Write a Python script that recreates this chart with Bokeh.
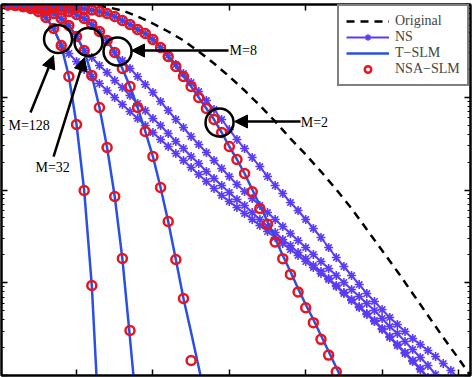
import numpy as np
from bokeh.plotting import figure
from bokeh.models import (Range1d, Legend, LegendItem, Arrow, NormalHead, Label,
                          FixedTicker, LinearAxis, LogAxis, CustomJSTickFormatter)
from bokeh.embed import file_html
from bokeh.resources import INLINE

# PAPR threshold grid (dB), 0.1 dB steps
papr_db = [4.0, 4.1, 4.2, 4.3, 4.4, 4.5, 4.6, 4.7, 4.8, 4.9,
           5.0, 5.1, 5.2, 5.3, 5.4, 5.5, 5.6, 5.7, 5.8, 5.9,
           6.0, 6.1, 6.2, 6.3, 6.4, 6.5, 6.6, 6.7, 6.8, 6.9,
           7.0, 7.1, 7.2, 7.3, 7.4, 7.5, 7.6, 7.7, 7.8, 7.9,
           8.0, 8.1, 8.2, 8.3, 8.4, 8.5, 8.6, 8.7, 8.8, 8.9,
           9.0, 9.1, 9.2, 9.3, 9.4, 9.5, 9.6, 9.7, 9.8, 9.9,
           10.0, 10.1, 10.2]
orig_db = [4.0, 4.2, 4.4, 4.6, 4.8, 5.0, 5.2, 5.4, 5.6, 5.8, 6.0, 6.2, 6.4, 6.6, 6.8,
           7.0, 7.2, 7.4, 7.6, 7.8, 8.0, 8.2, 8.4, 8.6, 8.8, 9.0, 9.2, 9.4, 9.6, 9.8,
           10.0, 10.2]

# log10 of CCDF values
orig_log10 = [0.0, 0.0, -0.001, -0.001, -0.001, -0.002, -0.009, -0.027, -0.065, -0.129,
              -0.205, -0.291, -0.388, -0.507, -0.636, -0.776, -0.927, -1.089, -1.261, -1.445,
              -1.617, -1.801, -1.995, -2.199, -2.426, -2.652, -2.879, -3.116, -3.353, -3.590,
              -3.817, -4.054]

tslm_m2_log10 = [0.0, -0.001, -0.003, -0.005, -0.009, -0.012, -0.016, -0.020, -0.026, -0.032,
                 -0.039, -0.047, -0.058, -0.075, -0.097, -0.129, -0.173, -0.216, -0.270, -0.313,
                 -0.377, -0.464, -0.561, -0.668, -0.776, -0.884, -1.003, -1.121, -1.240, -1.380,
                 -1.531, -1.671, -1.822, -1.995, -2.167, -2.340, -2.523, -2.706, -2.879, -3.062,
                 -3.235, -3.396, -3.569, -3.741, -3.914, -4.086]
tslm_m8_log10 = [0.0, -0.002, -0.004, -0.009, -0.013, -0.019, -0.027, -0.038, -0.054, -0.075,
                 -0.108, -0.151, -0.216, -0.291, -0.388, -0.518, -0.690, -0.884, -1.111, -1.369,
                 -1.639, -1.973, -2.340, -2.749, -3.170, -3.536, -3.914, -4.291]
tslm_m32_log10 = [0.0, -0.003, -0.009, -0.016, -0.027, -0.043, -0.065, -0.097, -0.151, -0.226,
                  -0.345, -0.496, -0.766, -1.111, -1.542, -2.070, -2.739, -3.601, -4.485]
tslm_m128_log10 = [0.0, -0.004, -0.011, -0.024, -0.043, -0.075, -0.140, -0.259, -0.442, -0.776,
                   -1.294, -2.005, -3.030, -4.615]

nsa_m2_log10 = tslm_m2_log10[:33] + [-2.02, -2.20, -2.37, -2.56, -2.74, -2.91, -3.10, -3.27,
                                     -3.43, -3.61, -3.78, -3.96]
nsa_m8_log10 = tslm_m8_log10[:25] + [-3.838]
nsa_m32_log10 = tslm_m32_log10[:17] + [-3.515]
nsa_m128_log10 = tslm_m128_log10[:13]

ns_m2_log10 = tslm_m2_log10[:22] + [
    -0.550, -0.647, -0.744, -0.841, -0.938, -1.035, -1.132, -1.240, -1.348, -1.456,
    -1.553, -1.650, -1.747, -1.855, -1.952, -2.038, -2.135, -2.221, -2.318, -2.415,
    -2.512, -2.620, -2.728, -2.825, -2.922, -3.019, -3.116, -3.202, -3.289, -3.375,
    -3.450, -3.526, -3.601, -3.666, -3.730, -3.795, -3.871, -3.946, -4.032]
ns_m8_log10 = tslm_m8_log10[:16] + [
    -0.604, -0.690, -0.776, -0.863, -0.949, -1.046, -1.143, -1.240, -1.326, -1.423,
    -1.509, -1.596, -1.682, -1.768, -1.855, -1.941, -2.016, -2.092, -2.167, -2.243,
    -2.318, -2.394, -2.469, -2.545, -2.620, -2.696, -2.771, -2.846, -2.922, -2.997,
    -3.073, -3.148, -3.224, -3.299, -3.385, -3.472, -3.547, -3.633, -3.720, -3.806,
    -3.892, -3.989, -4.097]
ns_m32_log10 = tslm_m32_log10[:12] + [
    -0.571, -0.658, -0.733, -0.819, -0.895, -0.981, -1.067, -1.143, -1.229, -1.305,
    -1.391, -1.477, -1.553, -1.639, -1.714, -1.801, -1.876, -1.952, -2.027, -2.102,
    -2.167, -2.243, -2.318, -2.394, -2.458, -2.534, -2.598, -2.674, -2.739, -2.814,
    -2.879, -2.954, -3.030, -3.105, -3.181, -3.256, -3.332, -3.407, -3.493, -3.580,
    -3.666, -3.752, -3.838, -3.925, -4.022]
ns_m128_log10 = tslm_m128_log10[:9] + [
    -0.528, -0.615, -0.701, -0.776, -0.852, -0.927, -1.003, -1.078, -1.154, -1.229,
    -1.305, -1.380, -1.456, -1.531, -1.607, -1.682, -1.757, -1.833, -1.908, -1.984,
    -2.059, -2.124, -2.189, -2.253, -2.318, -2.383, -2.448, -2.512, -2.577, -2.642,
    -2.706, -2.771, -2.836, -2.900, -2.965, -3.041, -3.116, -3.191, -3.267, -3.342,
    -3.418, -3.504, -3.590, -3.677, -3.763, -3.849, -3.935, -4.032]

legend_labels = ["Original", "NS", "T\u2212SLM", "NSA\u2212SLM"]
x_ticks = [5, 6, 7, 8, 9, 10]
y_decades = [1e-4, 1e-3, 1e-2, 1e-1, 1.0]


def xy(vals, grid=papr_db):
    return grid[:len(vals)], list(10.0 ** np.array(vals))


BLACK = "black"
PURPLE = "#5a3cf5"
BLUE = "#2a4fe6"
RED = "#e8141e"
FONT = "Liberation Serif"

p = figure(width=474, height=377, x_range=Range1d(4.018, 10.157),
           y_range=Range1d(1e-4, 1.0), y_axis_type="log",
           output_backend="svg", toolbar_location=None,
           min_border_left=1, min_border_right=4, min_border_top=4, min_border_bottom=2)
p.grid.visible = False
p.outline_line_color = "black"
p.outline_line_width = 2
p.background_fill_color = "white"
p.border_fill_color = "white"

y_minor = [m * d for d in y_decades[:-1] for m in range(2, 10)]
p.xaxis.ticker = FixedTicker(ticks=x_ticks, minor_ticks=[])
p.yaxis.ticker = FixedTicker(ticks=y_decades, minor_ticks=y_minor)
p.add_layout(LinearAxis(ticker=FixedTicker(ticks=x_ticks, minor_ticks=[])), "above")
p.add_layout(LogAxis(ticker=FixedTicker(ticks=y_decades, minor_ticks=y_minor)), "right")
for ax in p.axis:
    ax.axis_line_width = 2
    ax.major_tick_in = 6
    ax.major_tick_out = 0
    ax.minor_tick_in = 3
    ax.minor_tick_out = 0
    ax.major_tick_line_width = 1.5
    ax.minor_tick_line_width = 1.2
    ax.formatter = CustomJSTickFormatter(code="return ''")
    ax.major_label_text_font_size = "1px"
    ax.major_label_standoff = 0
    ax.axis_label = None

# Original
ox, oy = xy(orig_log10, orig_db)
r_orig = p.line(ox, oy, line_color=BLACK, line_width=2.5, line_dash="8 6")

# NS
ns_line = ns_mark = None
for arr in [ns_m2_log10, ns_m8_log10, ns_m32_log10, ns_m128_log10]:
    x, y = xy(arr)
    ns_line = p.line(x, y, line_color=PURPLE, line_width=2)
    ns_mark = p.scatter(x, y, marker="asterisk", size=9, line_color=PURPLE, line_width=1.6)

# T-SLM
t_line = None
for arr in [tslm_m2_log10, tslm_m8_log10, tslm_m32_log10, tslm_m128_log10]:
    x, y = xy(arr)
    t_line = p.line(x, y, line_color=BLUE, line_width=2.5)

# NSA-SLM
nsa = None
for arr in [nsa_m2_log10, nsa_m8_log10, nsa_m32_log10, nsa_m128_log10]:
    x, y = xy(arr)
    nsa = p.scatter(x, y, marker="circle", size=9, fill_color=None,
                    line_color=RED, line_width=2.5)

# annotation circles
p.scatter([4.758, 5.157, 5.537, 6.872], [0.4246, 0.394, 0.311, 0.0534], marker="circle",
          size=28, fill_color=None, line_color="black", line_width=2.5)

arrows = [((7.932, 0.0548), (7.068, 0.0548)),
          ((6.990, 0.319), (5.720, 0.319)),
          ((4.398, 0.0685), (4.699, 0.282)),
          ((4.699, 0.02297), (5.105, 0.2683))]
for (xs, ys), (xe, ye) in arrows:
    p.add_layout(Arrow(end=NormalHead(size=13, fill_color="black", line_color="black", line_width=1),
                       x_start=xs, y_start=ys, x_end=xe, y_end=ye,
                       line_color="black", line_width=2.5))

for tx, ty, t in [(4.110, 0.0496, "M=128"), (4.463, 0.01748, "M=32"),
                  (7.003, 0.319, "M=8"), (7.935, 0.0534, "M=2")]:
    p.add_layout(Label(x=tx, y=ty, text=t, text_font=FONT, text_font_size="14px",
                       text_baseline="middle", text_color="black"))

legend = Legend(items=[
    LegendItem(label=legend_labels[0], renderers=[r_orig]),
    LegendItem(label=legend_labels[1], renderers=[ns_line, ns_mark]),
    LegendItem(label=legend_labels[2], renderers=[t_line]),
    LegendItem(label=legend_labels[3], renderers=[nsa]),
], location=(336, 289))
legend.label_text_font = FONT
legend.label_text_font_size = "14px"
legend.border_line_color = "black"
legend.border_line_width = 2
legend.padding = 7
legend.spacing = 0
legend.glyph_width = 43
legend.glyph_height = 16
legend.label_height = 16
legend.label_standoff = 6
legend.margin = 0
legend.background_fill_alpha = 1
p.add_layout(legend)

open("out.html", "w").write(file_html(p, INLINE))
